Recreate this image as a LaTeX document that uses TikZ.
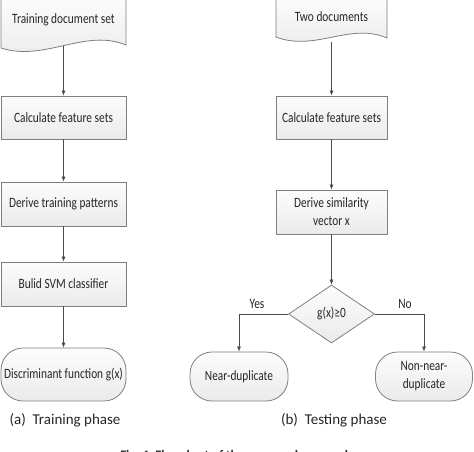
\documentclass[tikz,border=0pt]{standalone}
\usepackage{fontspec}
\setmainfont{Carlito}
\newfontfamily\boxfont{Carlito}[FakeStretch=0.8]
\usetikzlibrary{arrows.meta,shapes.geometric,calc}
\definecolor{edgegray}{HTML}{7F7F7F}
\definecolor{linegray}{HTML}{4A4A4A}
\tikzset{
  procbox/.style={draw=edgegray, line width=0.8pt, top color=gray!2, bottom color=gray!16,
    font=\boxfont\fontsize{14.2}{18}\selectfont, align=center, inner sep=1pt, text=black!85},
  termbox/.style={procbox, rounded corners=22pt},
  decbox/.style={procbox, diamond, minimum width=86pt, minimum height=58pt, inner sep=0pt},
  flow/.style={draw=linegray, line width=0.7pt, -{Latex[length=5pt,width=4pt]}},
  lbl/.style={font=\boxfont\fontsize{14.2}{16}\selectfont, inner sep=0pt, text=black!85},
  captext/.style={font=\fontsize{15}{17}\selectfont, inner sep=0pt, text=black!85}
}
\begin{document}
\begin{tikzpicture}[x=1pt,y=-1pt]
\useasboundingbox (0,0) rectangle (474,451);
% document shapes
\draw[draw=edgegray, line width=0.8pt, top color=gray!2, bottom color=gray!16]
  (1,-3) -- (1,48) .. controls (45,62) and (85,28) .. (126,45) -- (126,-3) -- cycle;
\node[lbl] (d1) at (63.5,20) {Training document set};
\coordinate (d1b) at (63.5,46);
\draw[draw=edgegray, line width=0.8pt, top color=gray!2, bottom color=gray!16]
  (276,-3) -- (276,37) .. controls (315,52) and (350,22) .. (387,38) -- (387,-3) -- cycle;
\node[lbl] (d2) at (331.5,17) {Two documents};
\coordinate (d2b) at (331.5,42);
% left column
\node[procbox, minimum width=125pt, minimum height=43pt] (c1) at (63.5,117.5) {Calculate feature sets};
\node[procbox, minimum width=125pt, minimum height=44pt] (p1) at (63.5,204) {Derive training patterns};
\node[procbox, minimum width=125pt, minimum height=44pt] (s1) at (63.5,284) {Bulid SVM classifier};
\node[termbox, minimum width=125pt, minimum height=53pt] (t1) at (63.5,374.5) {Discriminant function g(x)};
% right column
\node[procbox, minimum width=111pt, minimum height=43pt] (c2) at (331.5,117.5) {Calculate feature sets};
\node[procbox, minimum width=111pt, minimum height=44pt] (v2) at (331.5,212) {Derive similarity\\vector x};
\node[decbox] (dec) at (331.5,314) {g(x)≥0};
\node[termbox, minimum width=98pt, minimum height=49pt] (n1) at (239,376.5) {Near-duplicate};
\node[termbox, minimum width=97pt, minimum height=49pt] (n2) at (424,376.5) {Non-near-\\duplicate};
% connectors
\draw[flow] (d1b) -- (c1.north);
\draw[flow] (c1) -- (p1);
\draw[flow] (p1) -- (s1);
\draw[flow] (s1) -- (t1);
\draw[flow] (d2b) -- (c2.north);
\draw[flow] (c2) -- (v2);
\draw[flow] (v2) -- (dec);
\draw[flow] (dec.west) -| (n1.north);
\draw[flow] (dec.east) -| (n2.north);
\node[lbl] (yes) at (257,304) {Yes};
\node[lbl] (no) at (405,304) {No};
% captions
\node[captext] (ca) at (65,420) {(a)\ \ Training phase};
\node[captext] (cb) at (334,420) {(b)\ \ Testing phase};
\node[font=\bfseries\fontsize{13}{15}\selectfont, inner sep=0pt, anchor=base, text=black!85] (fig) at (236,459) {Fig. 1\ \ Flowchart of the proposed approach};
\end{tikzpicture}
\end{document}
